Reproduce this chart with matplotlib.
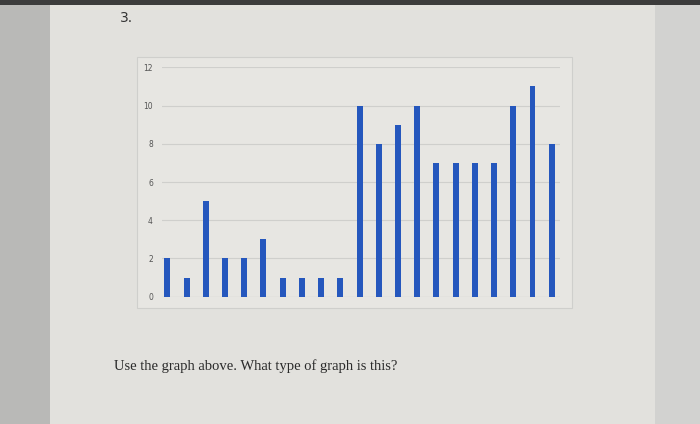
import numpy as np
import matplotlib.pyplot as plt
from matplotlib.patches import Rectangle

# bar heights, left to right
values = [2, 1, 5, 2, 2, 3, 1, 1, 1, 1, 10, 8, 9, 10, 7, 7, 7, 7, 10, 11, 8]
y_ticks = [0, 2, 4, 6, 8, 10, 12]
question = "Use the graph above. What type of graph is this?"

W, H = 700, 424
fig = plt.figure(figsize=(7, 4.24), dpi=100)
fig.patch.set_facecolor('#e2e1dd')

def px_rect(x0, y0, x1, y1, **kw):
    # rectangle in pixel coords (top-left origin) -> figure fraction
    fig.patches.append(Rectangle((x0 / W, 1 - y1 / H), (x1 - x0) / W, (y1 - y0) / H,
                                 transform=fig.transFigure, figure=fig, zorder=-5, **kw))

# screen margins around the page
px_rect(0, 0, 50, H, facecolor='#b9b9b7', edgecolor='none')
px_rect(655, 0, W, H, facecolor='#d2d2d0', edgecolor='none')
px_rect(0, 0, W, 5, facecolor='#3c3c3c', edgecolor='none')
# chart frame
px_rect(137, 57, 572, 308, facecolor='#e7e6e2', edgecolor='#cfcfcc', linewidth=0.8)

fig.text(120 / W, 1 - 18 / H, "3.", fontsize=10, color='#333333', va='center', ha='left')
fig.text(114 / W, 1 - 366 / H, question, fontsize=10.5, family='Liberation Serif',
         color='#2a2a2a', va='center', ha='left')

ax = fig.add_axes([162 / W, 1 - 296.7 / H, (560 - 162) / W, (296.7 - 67.3) / H])
ax.set_facecolor('none')
x = np.arange(len(values))
ax.bar(x, values, width=0.31, color='#2557bd', zorder=3)
ax.set_xlim(-0.28, len(values) - 1 + 0.43)
ax.set_ylim(0, 12)
ax.set_yticks(y_ticks)
ax.set_yticklabels([str(t) for t in y_ticks], fontsize=5.5, color='#555555')
ax.tick_params(axis='y', length=0, pad=6.5)
ax.set_xticks([])
ax.grid(axis='y', color='#cfcfcc', linewidth=0.8, zorder=0)
for s in ax.spines.values():
    s.set_visible(False)
ax.axhline(0, color='#cfcfcc', linewidth=0.8, zorder=1)

fig.savefig('out.png', dpi=100, facecolor=fig.get_facecolor())
